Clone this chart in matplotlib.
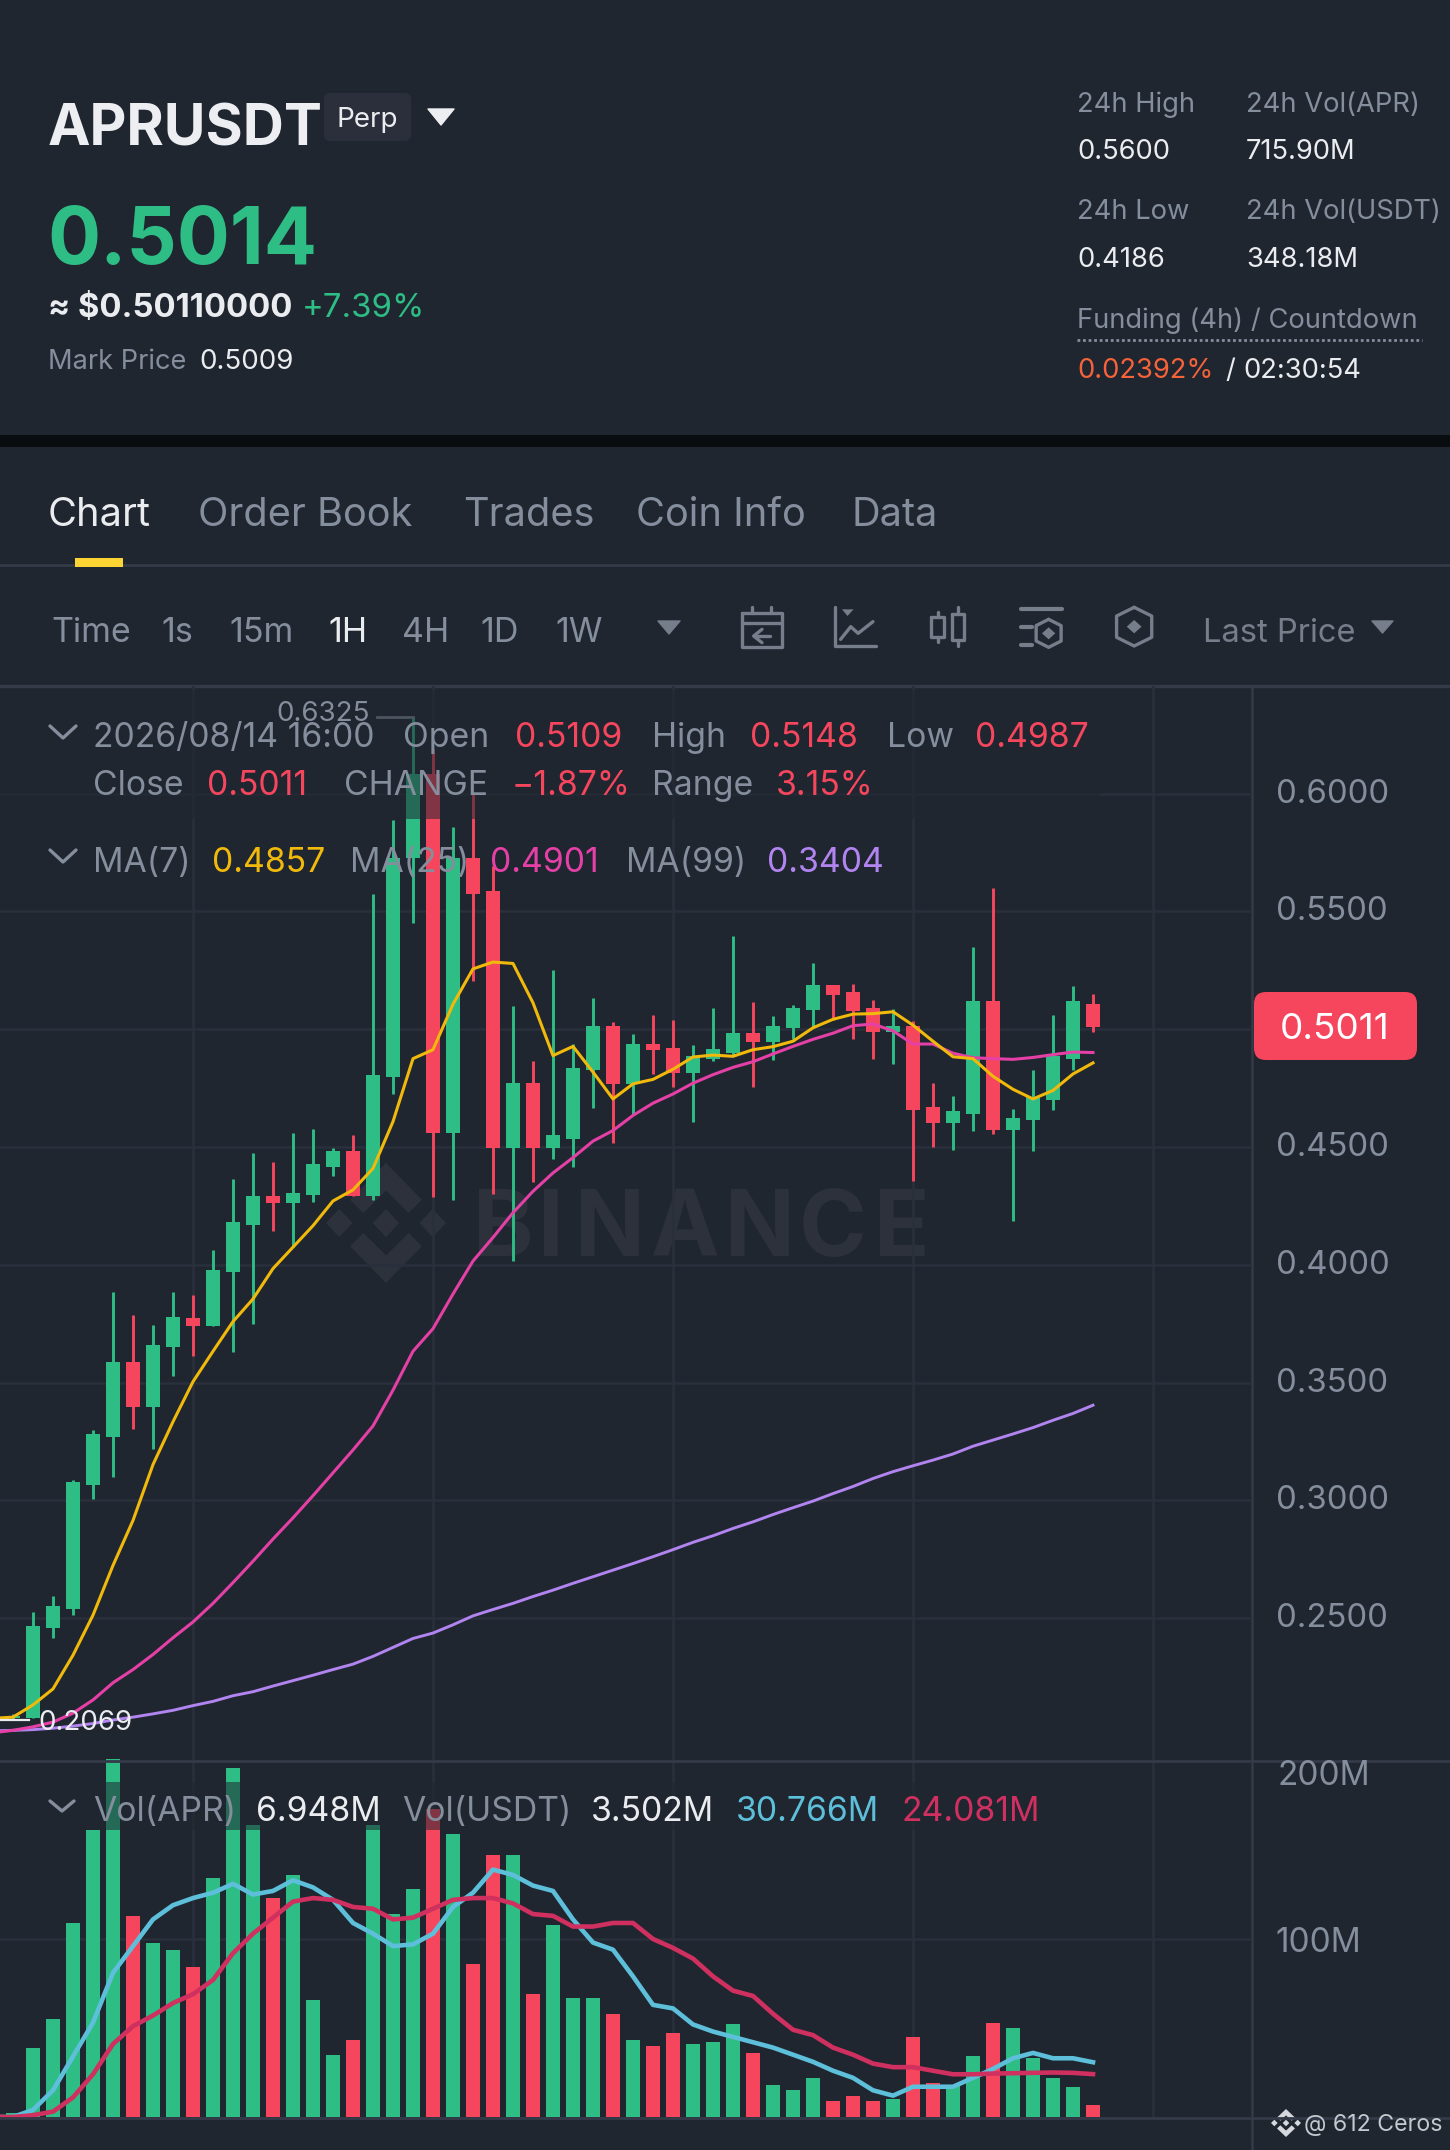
import matplotlib
matplotlib.use("Agg")
import matplotlib.pyplot as plt
from matplotlib.patches import FancyBboxPatch, Polygon, Rectangle
from matplotlib.transforms import ScaledTranslation

opens = [.2075,.2077,.2458,.2537,.3064,.3269,.3586,.3398,.3650,.3773,.3741,.3970,.4169,.4292,.4263,.4298,.4415,.4482,.4292,.4799,
         .5728,.6082,.4561,.5728,.5587,.4497,.4772,.4497,.4536,.4826,.5014,.4766,.4939,.4919,.4815,.4875,.4900,.4983,.4944,.5007,
         .5081,.5188,.5156,.5090,.4989,.5014,.4668,.4600,.4642,.5121,.4572,.4614,.4699,.4875,.5109]
highs = [.2095,.2528,.2595,.3085,.3299,.3885,.3788,.3744,.3885,.3873,.4063,.4365,.4476,.4438,.4558,.4576,.4497,.4553,.5572,.5886,
         .6325,.6190,.5859,.6000,.5692,.5098,.4866,.5253,.4936,.5133,.5030,.4978,.5061,.5040,.4932,.5090,.5397,.5117,.5058,.5103,
         .5281,.5188,.5193,.5125,.5087,.5033,.4773,.4716,.5351,.5600,.4663,.4826,.5061,.5182,.5148]
lows = [.2069,.2077,.2417,.2513,.3006,.3099,.3304,.3219,.3530,.3612,.3741,.3630,.3750,.4142,.4075,.4265,.4377,.4292,.4274,.4725,
        .5452,.4286,.4274,.5203,.4301,.4016,.4350,.4447,.4414,.4667,.4518,.4634,.4810,.4753,.4608,.4864,.4892,.4753,.4870,.4957,
        .5006,.5038,.4960,.4872,.4854,.4357,.4502,.4487,.4566,.4556,.4186,.4481,.4657,.4826,.4987]
closes = [.2085,.2466,.2551,.3076,.3281,.3586,.3398,.3659,.3779,.3741,.3978,.4180,.4292,.4263,.4306,.4427,.4482,.4292,.4807,.5728,
          .6082,.4561,.5728,.5575,.4497,.4772,.4497,.4549,.4836,.5014,.4766,.4937,.4910,.4815,.4888,.4914,.4983,.4944,.5015,.5092,
          .5188,.5146,.5079,.4988,.5015,.4657,.4600,.4654,.5121,.4574,.4621,.4712,.4885,.5118,.5011]
# moving averages start one bar before the first visible candle
ma7 = [.2075,.2080,.2132,.2200,.2343,.2513,.2724,.2915,.3152,.3334,.3504,.3633,.3759,.3855,.3984,.4075,.4166,.4271,.4318,.4409,.4608,
       .4875,.4913,.5106,.5256,.5285,.5279,.5112,.4888,.4927,.4818,.4704,.4768,.4787,.4830,.4882,.4890,.4885,.4913,.4926,.4949,
       .5006,.5042,.5064,.5066,.5074,.5017,.4949,.4883,.4875,.4800,.4745,.4704,.4740,.4810,.4857]
ma25 = [.2014,.2024,.2039,.2059,.2097,.2153,.2226,.2282,.2346,.2417,.2484,.2563,.2651,.2742,.2836,.2926,.3020,.3117,.3214,.3316,.3468,
        .3633,.3729,.3876,.4016,.4116,.4221,.4312,.4390,.4455,.4525,.4570,.4634,.4686,.4725,.4771,.4807,.4838,.4862,.4895,.4927,
        .4957,.4983,.5015,.5022,.4993,.4937,.4937,.4898,.4879,.4875,.4872,.4880,.4892,.4903,.4901]
ma99 = [.2022,.2024,.2027,.2033,.2042,.2053,.2068,.2080,.2094,.2109,.2129,.2147,.2171,.2188,.2212,.2235,.2258,.2282,.2305,.2338,.2376,
        .2414,.2437,.2472,.2510,.2537,.2563,.2592,.2619,.2648,.2676,.2704,.2732,.2761,.2791,.2822,.2850,.2881,.2909,.2940,.2969,
        .2997,.3029,.3059,.3093,.3122,.3147,.3171,.3197,.3230,.3256,.3282,.3309,.3340,.3369,.3404]
volumes = [2,39,55,109,161,201,113,98,94,84,134,196,164,123,136,66,35,43,164,114,128,173,159,86,147,147,69,108,67,67,58,43,40,47,41,42,52,36,18,15,
           22,9,12,9,10,45,19,18,34,53,50,33,22,17,7]
vol_ma_fast = [0,0,4,15,34,53,81,96,111,119,123,126,131,125,127,133,129,122,109,103,96,97,103,118,126,139,136,130,127,111,98,94,79,63,61,52,48,45,42,39,35,
               31,26,22,15,12,17,17,17,22,27,33,36,33,33,30.77]
vol_ma_slow = [0,0,1,3,11,24,41,51,57,64,69,77,92,103,112,121,123,122,118,117,111,112,117,122,123,123,120,114,113,107,107,109,109,100,95,89,79,71,68,58,49,
               46,39,35,30,28,28,26,24,24,24.4,24.6,24.8,25,24.8,24.08]
price_ticks = [.25,.30,.35,.40,.45,.50,.55,.60]
price_tick_labels = ["0.2500","0.3000","0.3500","0.4000","0.4500","","0.5500","0.6000"]
vol_ticks = [100]
vgrid_idx = [9,21,33,45,57]

BG = "#1F2630"; GRID = "#2A303B"; LINE = "#343A47"; GREY = "#848E9C"; WHITE = "#EAECEF"
GREEN = "#2EBD85"; RED = "#F6465D"; YEL = "#F0B90B"; MAG = "#E440A6"; PUR = "#B184F0"
FONT = "Inter"
W, H = 1450, 2150
plt.rcParams["font.family"] = [FONT, "DejaVu Sans"]

fig = plt.figure(figsize=(14.5, 21.5), dpi=100, facecolor=BG)

def pixel_axes(z):
    a = fig.add_axes([0, 0, 1, 1], zorder=z)
    a.set_xlim(0, W); a.set_ylim(H, 0); a.axis("off")
    return a

def chart_axes(top, bottom):
    a = fig.add_axes([0, 1 - bottom / H, 1252 / W, (bottom - top) / H], zorder=1)
    a.patch.set_alpha(0)
    a.set_xlim(-0.65, 61.95)
    for s in a.spines.values():
        s.set_visible(False)
    a.set_xticks(vgrid_idx); a.set_xticklabels([])
    a.yaxis.tick_right()
    a.tick_params(length=0, pad=17, labelsize=23.7, labelcolor=GREY)
    a.grid(True, color=GRID, lw=1.8)
    a.set_axisbelow(True)
    return a

bg = pixel_axes(0)
fg = pixel_axes(2)
x = list(range(len(closes)))
x_ma = list(range(-1, len(closes)))
colors = [GREEN if c >= o else RED for o, c in zip(opens, closes)]

def T(a, px, yc, s, size, color=WHITE, weight="normal", ha="left"):
    a.text(px, yc + size * 100 / 72 * 0.36, s, fontsize=size, color=color, fontweight=weight,
           ha=ha, va="baseline", family=[FONT, "DejaVu Sans"])

def tri(a, x0, x1, y0, y1, color):
    a.add_patch(Polygon([(x0, y0), (x1, y0), ((x0 + x1) / 2, y1)], closed=True, fc=color, ec=color, lw=1, joinstyle="round"))

def logo(a, cx, cy, hw, hh, color):
    u, v = hw / 167.0, hh / 85.0
    def P(pts):
        a.add_patch(Polygon([(cx + p * u, cy + q * v) for p, q in pts], closed=True, fc=color, ec="none"))
    for dx in (-130, 0, 130):
        P([(dx - 37, 0), (dx, -20), (dx + 37, 0), (dx, 20)])
    P([(0, -85), (100, -33), (63, -14), (0, -46), (-63, -14), (-100, -33)])
    P([(0, 85), (100, 33), (63, 14), (0, 46), (-63, 14), (-100, 33)])

# page structure
bg.add_patch(Rectangle((0, 435), W, 12, fc="#0A0D10", ec="none"))
bg.plot([0, W], [565, 565], color=LINE, lw=2)
bg.plot([0, W], [686, 686], color=LINE, lw=2.4)
bg.plot([1252, 1252], [686, H], color=LINE, lw=1.8)
logo(bg, 386, 1223, 60, 60, "#2C313C")
for letter, cx in zip("BINANCE", [503, 551, 610, 685, 760, 833, 902]):
    bg.text(cx, 1256, letter, fontsize=66, color="#2C313C", fontweight="bold", ha="center", va="baseline", family=FONT)

# price panel
ax = chart_axes(686, 1761)
ax.set_ylim(.6 - (1761 - 793.6) / 117.8 * .05, .6 + (793.6 - 686) / 117.8 * .05)
ax.set_yticks(price_ticks); ax.set_yticklabels(price_tick_labels)
for lab in ax.get_yticklabels():
    lab.set_transform(lab.get_transform() + ScaledTranslation(0, 3 / 100, fig.dpi_scale_trans))
ax.vlines(x, lows, highs, colors=colors, lw=2.1, zorder=3)
ax.bar(x, [abs(c - o) for o, c in zip(opens, closes)], bottom=[min(o, c) for o, c in zip(opens, closes)],
       width=0.7, color=colors, zorder=3)
ax.plot(x_ma, ma99, color=PUR, lw=2.1, zorder=4)
ax.plot(x_ma, ma25, color=MAG, lw=2.2, zorder=4)
ax.plot(x_ma, ma7, color=YEL, lw=2.2, zorder=4)

# volume panel
av = chart_axes(1761, H)
av.set_ylim((2117 - H) / 1.78, (2117 - 1761) / 1.78)
av.set_yticks(vol_ticks); av.set_yticklabels([f"{t}M" for t in vol_ticks])
av.tick_params(labelsize=24)
av.bar(x, volumes, width=0.74, color=colors, zorder=3, clip_on=False)
av.plot(x_ma, vol_ma_fast, color="#5DBFDA", lw=3.3, zorder=4)
av.plot(x_ma, vol_ma_slow, color="#D0305F", lw=3.3, zorder=4)

# panel rules, drawn above the grid
fg.add_patch(Rectangle((0, 2119), 1251, 31, fc=BG, ec="none"))
fg.plot([0, W], [1761, 1761], color=LINE, lw=2)
fg.plot([0, W], [2118, 2118], color=LINE, lw=2)

# translucent legend backing
fg.add_patch(Rectangle((0, 690), 1100, 129, fc=BG, ec="none", alpha=.55))
fg.add_patch(Rectangle((0, 1782), 1060, 48, fc=BG, ec="none", alpha=.55))

# header
T(fg, 48, 125, "APRUSDT", 41, "#EDEEF1", "bold")
fg.add_patch(FancyBboxPatch((330, 99), 75, 36, boxstyle="round,pad=6,rounding_size=6", fc="#2A2F3B", ec="none"))
T(fg, 367, 117, "Perp", 20, WHITE, ha="center")
tri(fg, 428, 454, 109, 125, "#EDEEF1")
T(fg, 47, 236, "0.5014", 56.7, GREEN, "bold")
T(fg, 48, 305, "≈ $0.50110000", 23.6, WHITE, "bold")
T(fg, 302, 305, "+7.39%", 23.7, GREEN)
T(fg, 48, 359, "Mark Price", 19.6, GREY)
T(fg, 199, 359, "0.5009", 20, WHITE)
for px, yc, s, c in [(1077, 102, "24h High", GREY), (1246, 102, "24h Vol(APR)", GREY), (1077, 149, "0.5600", WHITE),
                     (1246, 149, "715.90M", WHITE), (1077, 209, "24h Low", GREY), (1246, 209, "24h Vol(USDT)", GREY),
                     (1077, 257, "0.4186", WHITE), (1246, 257, "348.18M", WHITE), (1077, 318, "Funding (4h) / Countdown", GREY),
                     (1077, 368, "0.02392%", "#F6623A"), (1225, 368, "/", WHITE), (1243, 368, "02:30:54", WHITE)]:
    T(fg, px, yc, s, 19.7, c)
fg.plot([1077, 1422], [340, 340], color=GREY, lw=2, ls=(0, (1, 1)))

# tabs
for px, s, c in [(48, "Chart", WHITE), (198, "Order Book", GREY), (463, "Trades", GREY), (636, "Coin Info", GREY), (852, "Data", GREY)]:
    T(fg, px, 512, s, 28.6, c)
fg.add_patch(Rectangle((75, 558), 48, 9, fc="#FCD535", ec="none"))
for px, s, c in [(51, "Time", GREY), (161, "1s", GREY), (229, "15m", GREY), (328, "1H", WHITE), (402, "4H", GREY), (480, "1D", GREY), (555, "1W", GREY)]:
    T(fg, px, 630, s, 24.5, c)
ICON = "#767E8B"
tri(fg, 658, 680, 621, 634, ICON)
tri(fg, 1372, 1393, 621, 633, ICON)
T(fg, 1203, 630, "Last Price", 23.5, ICON)

def ix(v): return 725 + v / 2.163
def iy(v): return 570 + v / 3
def L(xs, ys, lw=2.4):
    fg.plot([ix(v) for v in xs], [iy(v) for v in ys], color=ICON, lw=lw, solid_capstyle="round", solid_joinstyle="round")
L([36, 124, 124, 36, 36], [130, 130, 232, 232, 130]); L([36, 124], [158, 158])
L([58, 58], [110, 128]); L([100, 100], [110, 128]); L([62, 98], [198, 198]); L([80, 62, 80], [178, 198, 218])
L([238, 238, 326], [110, 228, 228]); L([250, 272, 288, 320], [208, 170, 190, 155])
fg.add_patch(Polygon([(ix(253), iy(118)), (ix(278), iy(118)), (ix(265), iy(138))], fc=ICON, ec="none"))
L([446, 474, 474, 446, 446], [142, 142, 200, 200, 142]); L([460, 460], [125, 142]); L([460, 460], [200, 215])
L([490, 518, 518, 490, 490], [132, 132, 210, 210, 132]); L([504, 504], [112, 132]); L([504, 504], [210, 228])
L([640, 728], [116, 116], 3); L([640, 665], [171, 171], 3); L([640, 665], [225, 225], 3)
def hexa(cx, cy, w, h, d):
    xs = [cx, cx + w, cx + w, cx, cx - w, cx - w, cx]
    ys = [cy - h, cy - h * .55, cy + h * .55, cy + h, cy + h * .55, cy - h * .55, cy - h]
    L(xs, ys)
    fg.add_patch(Polygon([(ix(cx), iy(cy - d)), (ix(cx + d * .8), iy(cy)), (ix(cx), iy(cy + d)), (ix(cx - d * .8), iy(cy))], fc=ICON, ec="none"))
hexa(700, 190, 27, 42, 18)
hexa(885, 170, 38, 58, 20)

# legends
def chevron(cx0, cx1, y0, y1):
    fg.plot([cx0, (cx0 + cx1) / 2, cx1], [y0, y1, y0], color=GREY, lw=2.4, solid_capstyle="round", solid_joinstyle="round")
chevron(50, 76, 726, 738); chevron(50, 76, 850, 862); chevron(50, 74, 1801, 1811)
LG = 24.3
for px, yc, s, c in [(93, 735, "2026/08/14 16:00", GREY), (403, 735, "Open", GREY), (515, 735, "0.5109", RED), (652, 735, "High", GREY),
                     (750, 735, "0.5148", RED), (887, 735, "Low", GREY), (975, 735, "0.4987", RED),
                     (93, 783, "Close", GREY), (207, 783, "0.5011", RED), (344, 783, "CHANGE", GREY), (512, 783, "−1.87%", RED),
                     (652, 783, "Range", GREY), (776, 783, "3.15%", RED),
                     (93, 860, "MA(7)", GREY), (212, 860, "0.4857", YEL), (350, 860, "MA(25)", GREY), (490, 860, "0.4901", MAG),
                     (626, 860, "MA(99)", GREY), (767, 860, "0.3404", PUR),
                     (93, 1809, "Vol(APR)", GREY), (256, 1809, "6.948M", WHITE), (402, 1809, "Vol(USDT)", GREY), (591, 1809, "3.502M", WHITE),
                     (736, 1809, "30.766M", "#5DBFDA"), (902, 1809, "24.081M", "#D0305F")]:
    T(fg, px, yc, s, LG, c)

# extreme markers
T(fg, 276, 711, "0.6325", 20, GREY)
ax.plot([20, 18.2], [highs[20], highs[20]], color=GREY, lw=2, zorder=5)
T(fg, 38, 1720, "0.2069", 20, WHITE)
ax.plot([-0.65, 0.8], [lows[0], lows[0]], color=WHITE, lw=1.6, zorder=5)

# last price badge
fg.add_patch(FancyBboxPatch((1266, 1004), 139, 44, boxstyle="round,pad=12,rounding_size=12", fc=RED, ec="none"))
T(fg, 1335, 1026, "0.5011", 26.5, "#FFFFFF", ha="center")
T(fg, 1278, 1773, "200M", 24, GREY)

# credit
logo(fg, 1286, 2123, 15, 14, "#D5D8DD")
T(fg, 1304, 2123, "@ 612 Ceros", 16.7, "#C4C8CF")

fig.savefig("out.png", dpi=100, facecolor=BG)
